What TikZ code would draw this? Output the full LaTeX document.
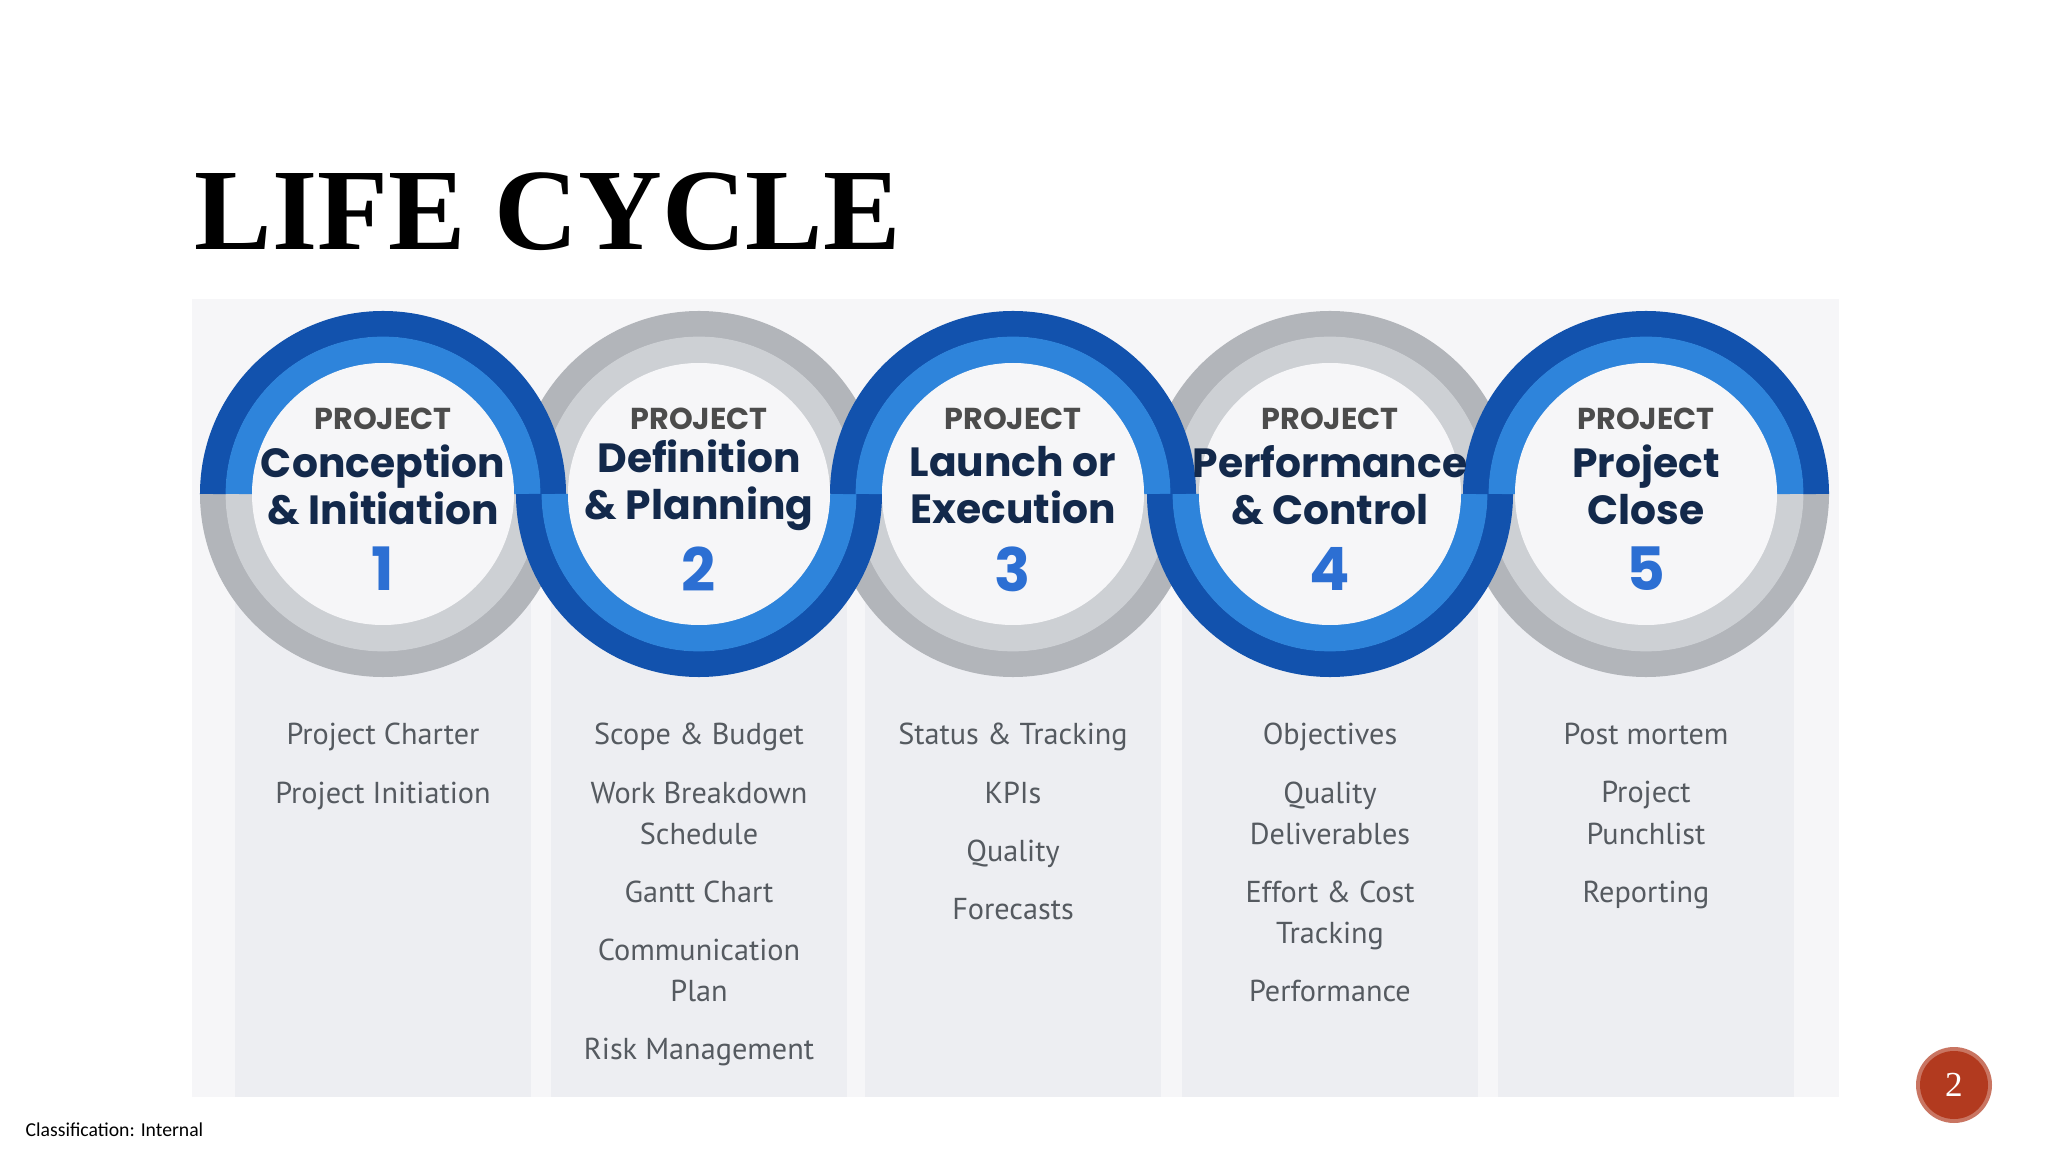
\documentclass[tikz,border=0pt]{standalone}
\usepackage{fontspec}
\setmainfont{Liberation Serif}
\newfontfamily\circfont{Poppins}
\newfontfamily\listfont{PT Sans}
\newfontfamily\classfont{Carlito}
\usetikzlibrary{calc}
\definecolor{bluedark}{HTML}{1252AD}
\definecolor{bluelight}{HTML}{2E84DB}
\definecolor{graydark}{HTML}{B2B5BA}
\definecolor{graylight}{HTML}{CDD0D4}
\definecolor{panel}{HTML}{F6F6F8}
\definecolor{strip}{HTML}{EDEEF2}
\definecolor{navy}{HTML}{13294B}
\definecolor{numblue}{HTML}{2C6FD3}
\definecolor{listgray}{HTML}{555A60}
\definecolor{pagered}{HTML}{B23A1F}
\tikzset{
  px/.style={x=0.01cm,y=-0.01cm},
  hdr/.style={font=\circfont\bfseries\fontsize{8.6}{9}\selectfont,text=black!70},
  ttl/.style={font=\circfont\bfseries\fontsize{11.6}{13.4}\selectfont,text=navy,align=center},
  num/.style={font=\circfont\bfseries\fontsize{17}{18}\selectfont,text=numblue},
  lst/.style={font=\listfont\fontsize{8.6}{11.7}\selectfont,text=listgray,align=center,anchor=north},
  bandout/.style={line width=7.4pt},
  bandin/.style={line width=7.6pt},
}
\begin{document}
\begin{tikzpicture}[px]
\useasboundingbox (0,0) rectangle (2048,1152);
\fill[white] (0,0) rectangle (2048,1152);
% title
\node[anchor=west,inner sep=0,font=\fontsize{33}{36}\selectfont\bfseries] (title) at (194,212) {LIFE CYCLE};
% panel
\fill[panel] (192,299) rectangle (1839,1097);
\foreach \x/\i in {383/1,699/2,1013/3,1330/4,1646/5}{
  \fill[strip] (\x-148,494) rectangle (\x+148,1097);
  \coordinate (c\i) at (\x,494);
}
% gray halves
\foreach \i/\a in {1/0,2/180,3/0,4/180,5/0}{
  \draw[graydark,bandout] (c\i) ++(\a:170) arc[start angle=\a,delta angle=180,radius=170];
  \draw[graylight,bandin] (c\i) ++(\a:144) arc[start angle=\a,delta angle=180,radius=144];
}
% blue halves
\foreach \i/\d in {1/180,2/-180,3/180,4/-180,5/180}{
  \draw[bluedark,bandout] (c\i) ++(180:170) arc[start angle=180,delta angle=\d,radius=170];
  \draw[bluelight,bandin] (c\i) ++(180:144) arc[start angle=180,delta angle=\d,radius=144];
}
\foreach \i in {1,...,5}{\fill[panel] (c\i) circle[radius=131];}
% circle texts
\foreach \i/\a/\b/\n in {1/Conception/\& Initiation/1,2/Definition/\& Planning/2,3/Launch or/Execution/3,4/Performance/\& Control/4,5/Project/Close/5}{
  \node[hdr] (h\i) at ($(c\i)+(0,-75)$) {PROJECT};
  \node[ttl] (t\i) at ($(c\i)+(0,-9)$) {\a\\\b};
  \node[num] (n\i) at ($(c\i)+(0,75)$) {\n};
}
% lists
\node[lst] (l1) at (383,711) {Project Charter\\[1.7mm]Project Initiation};
\node[lst] (l2) at (699,711) {Scope \& Budget\\[1.7mm]Work Breakdown\\Schedule\\[1.7mm]Gantt Chart\\[1.7mm]Communication\\Plan\\[1.7mm]Risk Management};
\node[lst] (l3) at (1013,711) {Status \& Tracking\\[1.7mm]KPIs\\[1.7mm]Quality\\[1.7mm]Forecasts};
\node[lst] (l4) at (1330,711) {Objectives\\[1.7mm]Quality\\Deliverables\\[1.7mm]Effort \& Cost\\Tracking\\[1.7mm]Performance};
\node[lst] (l5) at (1646,711) {Post mortem\\[1.7mm]Project\\Punchlist\\[1.7mm]Reporting};
% page number
\fill[pagered!70!white] (1954,1085) circle[radius=38];
\fill[pagered] (1954,1085) circle[radius=34];
\node[text=white,font=\fontsize{10}{12}\selectfont] (pg) at (1954,1085) {2};
\node[anchor=west,inner sep=0,font=\classfont\fontsize{5.6}{7}\selectfont] (cls) at (25,1130) {Classification: Internal};
\end{tikzpicture}
\end{document}
